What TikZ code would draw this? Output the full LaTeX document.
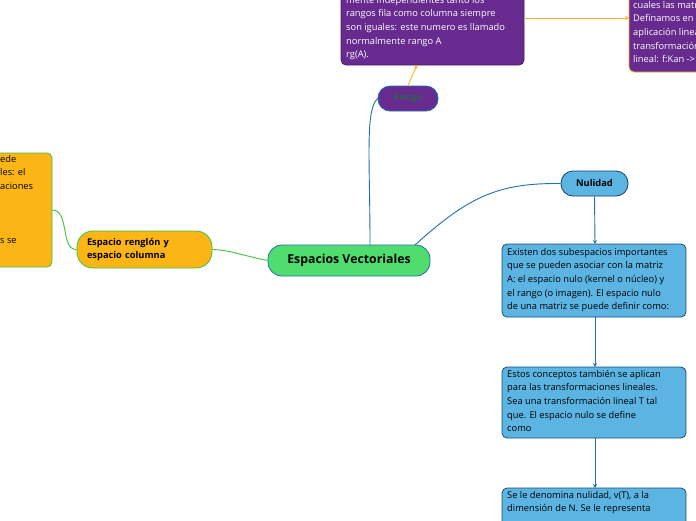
\documentclass[tikz,border=0pt]{standalone}
\usepackage{fontspec}
\setmainfont{Open Sans}
\usetikzlibrary{arrows.meta}
\definecolor{purp}{HTML}{672A8E}
\definecolor{grn}{HTML}{4FDE6E}
\definecolor{gline}{HTML}{3CC43C}
\definecolor{org}{HTML}{FBB515}
\definecolor{bluf}{HTML}{5BB4E2}
\definecolor{blul}{HTML}{1F6FB0}
\definecolor{oline}{HTML}{F7B52A}
\definecolor{rtxt}{HTML}{2F6150}
\begin{document}
\begin{tikzpicture}[x=1pt,y=-1pt,
 txt/.style={font=\fontsize{9.3}{13.6}\selectfont,align=left,anchor=north west,inner sep=0pt},
 box/.style={rounded corners=5pt,line width=0.8pt},
 arr/.style={-{Stealth[length=4pt,width=4pt]},line width=0.9pt}]
\useasboundingbox (0,0) rectangle (696,520);
% shapes
\draw[box,fill=purp,draw=purp!70!black] (341,-30) rectangle (524,65);
\draw[box,fill=purp,draw=oline] (629,-30) rectangle (720,72);
\draw[box,fill=org,draw=gline] (-40,153) rectangle (52,267);
\draw[box,fill=bluf,draw=blul!70!black] (502,244) rectangle (686,317);
\draw[box,fill=bluf,draw=blul!70!black] (502,367) rectangle (686,438);
\draw[box,fill=bluf,draw=blul!70!black] (502,488) rectangle (686,540);
\node[draw=blul,fill=purp,rounded corners=12pt,minimum width=60pt,minimum height=25pt,line width=0.8pt,font=\fontsize{9.3}{11}\selectfont\bfseries,text=rtxt] (rango) at (408,98.5) {Rango};
\node[draw=blul!60!black,fill=bluf,rounded corners=12pt,minimum width=67pt,minimum height=25pt,line width=0.8pt,font=\fontsize{9.3}{11}\selectfont\bfseries] (nul) at (594.5,183.5) {Nulidad};
\node[draw=blul,fill=grn,rounded corners=14pt,minimum width=162pt,minimum height=31pt,line width=0.8pt,font=\fontsize{12.3}{14}\selectfont\bfseries] (c) at (349,260.5) {Espacios Vectoriales};
\node[draw=gline,fill=org,rounded corners=16pt,minimum width=135pt,minimum height=37pt,line width=0.8pt,font=\fontsize{9.3}{12.5}\selectfont\bfseries,align=left,text width=115pt] (er) at (144.5,249.5) {Espacio renglón y\\espacio columna};
\coordinate (pb) at (417,65);
\coordinate (pr) at (524,18);
\coordinate (rb) at (629,18);
\coordinate (lb) at (52,210);
\coordinate (b1) at (595,244);
\coordinate (b1b) at (595,317);
\coordinate (b2) at (595,367);
\coordinate (b2b) at (595,438);
\coordinate (b3) at (595,488);
% connectors
\draw[blul,line width=0.9pt] (370,245) .. controls (370,160) and (365,110) .. (rango.west);
\draw[blul,line width=0.9pt] (415,245) .. controls (470,195) and (500,183) .. (nul.west);
\draw[gline,line width=0.9pt] (c.west) .. controls (240,255) and (230,250) .. (er.east);
\draw[gline,line width=0.9pt] (er.west) .. controls (60,250) and (70,210) .. (lb);
\draw[arr,oline] (rango.north) -- (pb);
\draw[arr,oline] (pr) -- (rb);
\draw[arr,blul] (nul.south) -- (b1);
\draw[arr,blul] (b1b) -- (b2);
\draw[arr,blul] (b2b) -- (b3);
% texts
\node[txt,text=white] at (346,-4) {mente independientes tanto los\\rangos fila como columna siempre\\son iguales: este numero es llamado\\normalmente rango A\\rg(A).};
\node[txt,text=white] at (633,1) {cuales las matrices\\Definamos en\\aplicación lineal\\transformación\\lineal: f:Kan ->};
\node[txt] at (0,155) {ede\\les: el\\aciones};
\node[txt] at (0,238) {s se};
\node[txt] at (507,248) {Existen dos subespacios importantes\\que se pueden asociar con la matriz\\A: el espacio nulo (kernel o núcleo) y\\el rango (o imagen). El espacio nulo\\de una matriz se puede definir como:};
\node[txt] at (507,370) {Estos conceptos también se aplican\\para las transformaciones lineales.\\Sea una transformación lineal T tal\\que. El espacio nulo se define\\como};
\node[txt] at (507,491) {Se le denomina nulidad, v(T), a la\\dimensión de N. Se le representa};
\end{tikzpicture}
\end{document}
